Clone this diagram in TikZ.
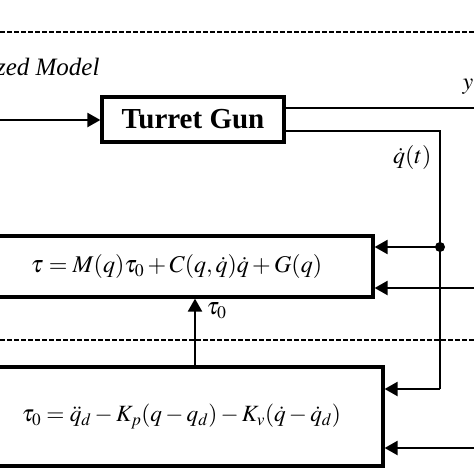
\documentclass[tikz,border=0pt]{standalone}
\usepackage{mathptmx}
\usepackage{fontspec}
\setmainfont{Liberation Serif}
\usetikzlibrary{positioning,arrows.meta}

\begin{document}
\begin{tikzpicture}[x=1pt,y=-1pt,
    block/.style={%
      draw,
      rectangle,
      line width=3.2pt,
      inner sep=0pt,
    },
    link/.style={line width=2.2pt, -{Triangle[length=13pt,width=14pt]}},
    wire/.style={line width=2.2pt},
    border/.style={line width=1.4pt, dash pattern=on 4.5pt off 2.5pt},
    lbl/.style={font=\fontsize{24}{28}\selectfont},
  ]
    \useasboundingbox (0,0) rectangle (474,474);
    \clip (0,0) rectangle (474,474);

    % dashed borders
    \coordinate (BL1) at (0,32);
    \coordinate (BR1) at (474,32);
    \coordinate (BL2) at (0,340);
    \coordinate (BR2) at (474,340);
    \draw [border] (BL1) -- (BR1);
    \draw [border] (BL2) -- (BR2);
    \node [anchor=east, font=\fontsize{25}{29}\selectfont\itshape] (M) at (103,67) {Linearized Model};

    % blocks
    \node [block, minimum width=182pt, minimum height=45pt, font=\fontsize{29}{33}\selectfont\bfseries] (G) at (193,119.5) {Turret Gun};
    \node [block, minimum width=393pt, minimum height=61pt, lbl] (N) at (176.5,266.5) {$\tau = M(q)\tau_0 + C(q,\dot q)\dot q + G(q)$};
    \node [block, minimum width=403pt, minimum height=99pt, font=\fontsize{23.3}{27}\selectfont] (P) at (181.5,416.5) {$\tau_0 = \ddot q_d - K_p(q - q_d) - K_v(\dot q - \dot q_d)$};

    % input and outputs
    \coordinate (IN) at (-5,120);
    \draw [link] (IN) -- (G.west |- IN);
    \coordinate (Y) at (480,108);
    \draw [wire] (G.east |- Y) -- (Y);
    \node [lbl, anchor=west] (YL) at (459,83) {$y(t)$};

    % feedback of qdot
    \coordinate (Q1) at (440,131);
    \coordinate (Q2) at (440,389);
    \coordinate (D) at (440,247);
    \draw [wire] (G.east |- Q1) -- (Q1) -- (Q2);
    \draw [link] (Q2) -- (P.east |- Q2);
    \fill (D) circle (5pt);
    \draw [link] (D) -- (N.east |- D);
    \node [lbl, anchor=east] (QL) at (435,157) {$\dot q(t)$};

    % desired signals
    \coordinate (R1) at (480,288);
    \coordinate (R2) at (480,448);
    \draw [link] (R1) -- (N.east |- R1);
    \draw [link] (R2) -- (P.east |- R2);

    % tau0
    \coordinate (T) at (195,367);
    \draw [link] (T) -- (T |- N.south);
    \node [lbl, anchor=west] (TL) at (203,311) {$\tau_0$};
\end{tikzpicture}
\end{document}
